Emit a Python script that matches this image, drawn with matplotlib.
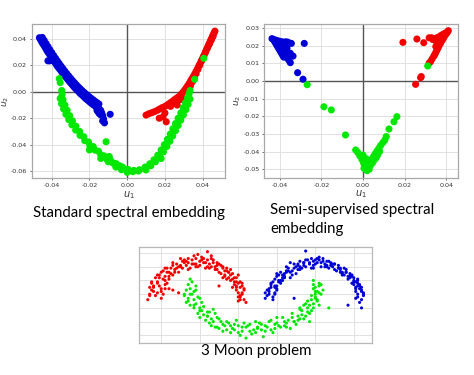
import matplotlib
matplotlib.use("Agg")
import matplotlib.pyplot as plt

# ---------------- data: top-left (standard spectral embedding) ----------------
tl_blue_x = [-0.0465, -0.0460, -0.0455, -0.0450, -0.0445, -0.0438, -0.0432, -0.0426, -0.0420, -0.0412,
             -0.0405, -0.0398, -0.0390, -0.0382, -0.0375, -0.0368, -0.0360, -0.0352, -0.0345, -0.0338,
             -0.0330, -0.0322, -0.0315, -0.0308, -0.0300, -0.0292, -0.0285, -0.0278, -0.0270, -0.0262,
             -0.0255, -0.0248, -0.0240, -0.0232, -0.0225, -0.0218, -0.0210, -0.0202, -0.0195, -0.0188,
             -0.0180, -0.0172, -0.0165, -0.0158, -0.0150, -0.0145, -0.0140, -0.0135, -0.0130, -0.0140,
             -0.0125, -0.0120, -0.0130, -0.0090, -0.0410, -0.0420, -0.0155, -0.0148, -0.0160,
             -0.0450, -0.0440, -0.0430, -0.0420, -0.0410, -0.0400, -0.0390, -0.0380, -0.0370, -0.0360,
             -0.0350, -0.0340, -0.0330, -0.0320, -0.0310, -0.0300, -0.0290, -0.0280, -0.0270, -0.0260,
             -0.0250, -0.0240, -0.0230, -0.0220, -0.0210, -0.0200, -0.0190, -0.0180, -0.0170, -0.0160,
             -0.0150]
tl_blue_y = [0.0410, 0.0398, 0.0385, 0.0372, 0.0360, 0.0345, 0.0330, 0.0315, 0.0300, 0.0284,
             0.0268, 0.0252, 0.0236, 0.0220, 0.0205, 0.0190, 0.0176, 0.0162, 0.0148, 0.0134,
             0.0120, 0.0107, 0.0094, 0.0081, 0.0068, 0.0055, 0.0043, 0.0031, 0.0020, 0.0009,
             -0.0002, -0.0013, -0.0023, -0.0033, -0.0043, -0.0053, -0.0062, -0.0071, -0.0080, -0.0088,
             -0.0097, -0.0105, -0.0113, -0.0120, -0.0128, -0.0135, -0.0142, -0.0160, -0.0180, -0.0175,
             -0.0205, -0.0235, -0.0220, -0.0170, 0.0235, 0.0235, -0.0150, -0.0165, -0.0140,
             0.0412, 0.0390, 0.0366, 0.0343, 0.0320, 0.0298, 0.0276, 0.0255, 0.0234, 0.0214,
             0.0194, 0.0175, 0.0156, 0.0138, 0.0120, 0.0103, 0.0086, 0.0070, 0.0054, 0.0039,
             0.0025, 0.0011, -0.0002, -0.0015, -0.0027, -0.0039, -0.0050, -0.0061, -0.0072, -0.0082,
             -0.0092]

tl_red_x = [0.0465, 0.0460, 0.0455, 0.0450, 0.0445, 0.0440, 0.0435, 0.0430, 0.0425, 0.0420,
            0.0415, 0.0410, 0.0405, 0.0398, 0.0392, 0.0385, 0.0378, 0.0372, 0.0365, 0.0358,
            0.0350, 0.0342, 0.0335, 0.0328, 0.0320, 0.0312, 0.0304, 0.0296, 0.0288, 0.0280,
            0.0270, 0.0260, 0.0250, 0.0240, 0.0230, 0.0220, 0.0210, 0.0198, 0.0185, 0.0172,
            0.0160, 0.0145, 0.0130, 0.0115, 0.0100, 0.0170, 0.0190, 0.0207, 0.0200, 0.0230,
            0.0250, 0.0265, 0.0280, 0.0290, 0.0455, 0.0445, 0.0435, 0.0425, 0.0415, 0.0405,
            0.0395, 0.0385, 0.0375, 0.0365, 0.0355, 0.0345, 0.0335]
tl_red_y = [0.0460, 0.0445, 0.0430, 0.0414, 0.0398, 0.0382, 0.0366, 0.0350, 0.0334, 0.0318,
            0.0302, 0.0286, 0.0270, 0.0250, 0.0232, 0.0212, 0.0192, 0.0174, 0.0155, 0.0136,
            0.0116, 0.0097, 0.0080, 0.0062, 0.0045, 0.0028, 0.0012, -0.0002, -0.0015, -0.0030,
            -0.0040, -0.0050, -0.0060, -0.0072, -0.0082, -0.0092, -0.0102, -0.0112, -0.0120, -0.0130,
            -0.0140, -0.0150, -0.0158, -0.0166, -0.0176, -0.0200, -0.0190, -0.0227, -0.0160, -0.0110,
            -0.0085, -0.0100, -0.0060, -0.0045, 0.0420, 0.0390, 0.0360, 0.0330, 0.0300, 0.0268,
            0.0236, 0.0202, 0.0170, 0.0137, 0.0105, 0.0075, 0.0045]

tl_green_x = [-0.0360, -0.0355, -0.0347, -0.0345, -0.0340, -0.0330, -0.0318, -0.0305, -0.0290, -0.0272,
              -0.0252, -0.0230, -0.0205, -0.0180, -0.0152, -0.0122, -0.0090, -0.0058, -0.0025, 0.0005,
              0.0035, 0.0065, 0.0095, 0.0120, 0.0142, 0.0162, 0.0180, 0.0197, 0.0213, 0.0228,
              0.0242, 0.0256, 0.0270, 0.0284, 0.0297, 0.0309, 0.0320, 0.0328, 0.0333,
              -0.0355, -0.0348, -0.0337, -0.0325, -0.0310, -0.0293, -0.0273, -0.0250, -0.0225, -0.0198,
              -0.0170, -0.0140, -0.0108, -0.0075, -0.0040, -0.0005, 0.0030, 0.0060,
              0.0095, 0.0125, 0.0150, 0.0172, 0.0192, 0.0210, 0.0226, 0.0241, 0.0256, 0.0270,
              0.0284, 0.0298, 0.0311, 0.0323, 0.0333,
              -0.0112, -0.0095, -0.0070, -0.0040, 0.0357, 0.0406,
              -0.0100, -0.0060, -0.0030, 0.0000, 0.0100, -0.0140, -0.0200, 0.0180]
tl_green_y = [0.0100, 0.0070, 0.0010, -0.0020, -0.0060, -0.0100, -0.0140, -0.0180, -0.0220, -0.0260,
              -0.0300, -0.0340, -0.0380, -0.0415, -0.0450, -0.0485, -0.0515, -0.0545, -0.0570, -0.0588,
              -0.0595, -0.0590, -0.0570, -0.0545, -0.0515, -0.0480, -0.0440, -0.0400, -0.0360, -0.0320,
              -0.0280, -0.0240, -0.0200, -0.0160, -0.0120, -0.0082, -0.0045, -0.0015, 0.0010,
              -0.0050, -0.0090, -0.0130, -0.0170, -0.0210, -0.0250, -0.0290, -0.0330, -0.0370, -0.0407,
              -0.0442, -0.0477, -0.0510, -0.0540, -0.0566, -0.0590, -0.0605, -0.0600,
              -0.0585, -0.0560, -0.0530, -0.0495, -0.0455, -0.0415, -0.0375, -0.0335, -0.0295, -0.0255,
              -0.0215, -0.0175, -0.0135, -0.0095, -0.0055,
              -0.0378, -0.0490, -0.0540, -0.0560, 0.0095, 0.0254,
              -0.0530, -0.0570, -0.0590, -0.0610, -0.0592, -0.0505, -0.0440, -0.0505]

# ---------------- data: top-right (semi-supervised spectral embedding) ----------------
tr_blue_x = [-0.0437, -0.0430, -0.0425, -0.0420, -0.0415, -0.0410, -0.0405, -0.0400, -0.0395, -0.0390,
             -0.0385, -0.0380, -0.0420, -0.0410, -0.0400, -0.0390, -0.0380, -0.0370, -0.0360, -0.0400,
             -0.0390, -0.0380, -0.0370, -0.0395, -0.0385, -0.0375, -0.0365, -0.0370, -0.0362, -0.0344,
             -0.0282, -0.0349, -0.0336, -0.0357, -0.0349, -0.0314, -0.0288]
tr_blue_y = [0.0240, 0.0235, 0.0225, 0.0215, 0.0205, 0.0195, 0.0185, 0.0175, 0.0165, 0.0155,
             0.0145, 0.0135, 0.0232, 0.0228, 0.0225, 0.0222, 0.0220, 0.0222, 0.0220, 0.0205,
             0.0200, 0.0195, 0.0200, 0.0190, 0.0180, 0.0170, 0.0185, 0.0160, 0.0150, 0.0213,
             0.0213, 0.0157, 0.0141, 0.0119, 0.0104, 0.0047, 0.0010]

tr_red_x = [0.0410, 0.0405, 0.0400, 0.0395, 0.0390, 0.0385, 0.0380, 0.0375, 0.0370, 0.0365,
            0.0360, 0.0355, 0.0350, 0.0345, 0.0340, 0.0332, 0.0325, 0.0318, 0.0395, 0.0385,
            0.0375, 0.0365, 0.0355, 0.0345, 0.0335, 0.0330, 0.0380, 0.0370, 0.0360, 0.0365,
            0.0372, 0.0355, 0.0350, 0.0360, 0.0192, 0.0259, 0.0292, 0.0318, 0.0277, 0.0253,
            0.0280]
tr_red_y = [0.0285, 0.0275, 0.0268, 0.0260, 0.0250, 0.0240, 0.0230, 0.0220, 0.0210, 0.0198,
            0.0186, 0.0174, 0.0162, 0.0150, 0.0140, 0.0125, 0.0110, 0.0102, 0.0272, 0.0265,
            0.0258, 0.0250, 0.0245, 0.0240, 0.0235, 0.0245, 0.0250, 0.0238, 0.0225, 0.0232,
            0.0215, 0.0210, 0.0195, 0.0205, 0.0219, 0.0238, 0.0217, 0.0245, 0.0019, -0.0019,
            0.0025]

tr_green_x = [-0.0035, -0.0025, -0.0015, -0.0005, 0.0003, 0.0008, 0.0012, 0.0020, 0.0030, 0.0035,
              0.0040, 0.0045, 0.0052, 0.0060, 0.0068, 0.0077, 0.0085, 0.0095, 0.0105, 0.0112,
              0.0125, 0.0149, 0.0163, 0.0010, 0.0020, 0.0025, 0.0035, 0.0045, 0.0015, 0.0000,
              0.0050, 0.0060, 0.0070, 0.0080, 0.0065, 0.0005, 0.0025,
              -0.0268, -0.0188, -0.0152, -0.0084, 0.0311]
tr_green_y = [-0.0391, -0.0405, -0.0425, -0.0445, -0.0465, -0.0485, -0.0500, -0.0508, -0.0500, -0.0480,
              -0.0460, -0.0440, -0.0425, -0.0410, -0.0395, -0.0380, -0.0365, -0.0350, -0.0335, -0.0315,
              -0.0272, -0.0231, -0.0202, -0.0470, -0.0480, -0.0460, -0.0450, -0.0465, -0.0440, -0.0420,
              -0.0455, -0.0440, -0.0420, -0.0400, -0.0430, -0.0495, -0.0490,
              -0.0021, -0.0146, -0.0164, -0.0306, 0.0085]

# ---------------- data: bottom (3 moons, grid units) ----------------
moon_red_x = [-0.35, -0.1, -0.25, 0.0, -0.15, -0.3, 0.05, -0.1, -0.2, 0.1,
              -0.25, 0.0, -0.05, 0.1, -0.2, 0.1, -0.15, 0.15, 0.0, -0.1,
              0.2, 0.05, 0.25, -0.05, 0.15, 0.35, 0.1, 0.3, 0.4, 0.2,
              0.5, 0.3, 0.45, 0.55, 0.25, 0.6, 0.7, 0.5, 0.65, 0.45,
              0.8, 0.9, 0.7, 0.85, 0.75, 1.0, 0.95, 1.05, 0.9, 1.1,
              1.2, 1.15, 1.25, 1.1, 1.3, 1.35, 1.4, 1.3, 1.45, 1.25,
              1.55, 1.5, 1.6, 1.45, 1.65, 1.7, 1.65, 1.75, 1.6, 1.8,
              1.85, 1.8, 1.9, 1.75, 1.95, 1.95, 1.9, 2.05, 1.85, 2.0,
              2.05, 2.0, 2.1, 1.95, 2.15, 2.1, 2.0, 2.15, 2.05, 1.95,
              2.15, 2.05, 2.2, 2.0, 2.1, 0.45, 0.3, 1.5, 1.2,
              -0.3, -0.2, -0.05, 0.1, 0.2, -0.25, 0.0, 0.15, 0.3, 0.35,
              0.4, 0.6, 0.55, 0.7, 0.8, 0.65, 0.9, 1.0, 1.05, 1.15,
              1.2, 1.35, 1.4, 1.5, 1.55, 1.6, 1.7, 1.75, 1.8, 1.9,
              1.95, 2.0, 2.1, 1.85, 1.7, 0.2, -0.1, 0.5, 0.95, 1.3,
              1.65, 2.05, 0.05, -0.3, 0.85, 1.45]
moon_red_y = [2.6, 3.1, 3.3, 2.7, 2.9, 3.5, 3.0, 3.8, 3.2, 3.4,
              3.9, 3.4, 4.2, 3.7, 3.6, 4.3, 4.2, 3.8, 4.6, 3.9,
              4.1, 4.7, 4.5, 4.4, 4.9, 4.8, 4.9, 4.4, 5.2, 4.6,
              5.0, 5.3, 4.6, 5.4, 4.9, 5.3, 4.8, 5.6, 5.1, 5.0,
              5.5, 5.0, 5.3, 5.8, 4.9, 5.4, 5.0, 5.7, 5.2, 5.3,
              5.5, 4.9, 5.2, 5.6, 5.0, 5.3, 4.8, 5.6, 5.1, 4.9,
              5.1, 4.6, 4.9, 5.3, 4.7, 4.9, 4.4, 4.6, 4.2, 4.8,
              4.5, 4.0, 4.2, 4.6, 3.9, 4.2, 3.7, 3.9, 3.5, 4.4,
              3.5, 3.1, 3.8, 3.3, 3.4, 3.0, 2.8, 3.3, 2.6, 3.5,
              2.6, 2.9, 2.4, 2.5, 3.1, 3.1, 3.3, 3.6, 6.1,
              3.0, 3.5, 3.6, 4.0, 4.3, 3.8, 3.2, 4.6, 5.1, 4.6,
              4.9, 5.5, 4.9, 5.6, 5.2, 5.4, 5.6, 5.1, 5.5, 5.3,
              5.0, 5.5, 5.0, 5.2, 4.5, 5.0, 4.7, 4.2, 4.4, 3.9,
              3.6, 3.8, 3.6, 4.1, 4.1, 3.4, 4.4, 5.1, 5.9, 5.8,
              4.3, 2.8, 4.1, 2.9, 5.2, 4.8]

moon_green_x = [0.8, 0.65, 0.9, 0.75, 0.6, 0.7, 0.85, 0.6, 0.95, 0.75,
                0.9, 0.7, 1.0, 0.85, 0.75, 1.0, 0.85, 1.1, 0.95, 1.05,
                1.2, 1.05, 1.25, 1.0, 1.15, 1.35, 1.2, 1.45, 1.3, 1.4,
                1.6, 1.5, 1.7, 1.45, 1.6, 1.85, 1.75, 1.9, 1.8, 1.95,
                2.1, 2.0, 2.2, 2.15, 2.05, 2.4, 2.3, 2.5, 2.35, 2.45,
                2.7, 2.6, 2.75, 2.65, 2.8, 2.95, 3.0, 2.9, 3.05, 2.85,
                3.2, 3.3, 3.15, 3.35, 3.25, 3.45, 3.55, 3.4, 3.5, 3.6,
                3.65, 3.75, 3.6, 3.8, 3.7, 3.85, 3.9, 3.8, 3.95, 3.75,
                4.0, 3.95, 4.05, 3.9, 4.1, 4.05, 4.0, 4.15, 3.95, 4.1,
                4.1, 4.0, 4.2, 3.95, 4.15, 4.35, 3.85, 2.2,
                0.7, 0.8, 0.65, 0.9, 0.85, 1.0, 1.1, 1.2, 1.3, 1.25,
                1.4, 1.5, 1.55, 1.65, 1.7, 1.8, 1.9, 2.0, 2.1, 2.25,
                2.3, 2.45, 2.55, 2.6, 2.7, 2.85, 2.95, 3.1, 3.2, 3.25,
                3.4, 3.45, 3.55, 3.65, 3.7, 3.8, 3.85, 3.9, 4.0, 4.05,
                4.1, 3.95, 0.75, 1.35, 2.5, 3.0, 3.6, 4.0]
moon_green_y = [3.9, 3.3, 3.6, 4.1, 3.0, 2.7, 3.2, 2.9, 2.8, 3.4,
                2.3, 2.5, 2.7, 2.0, 2.2, 1.8, 2.2, 2.1, 1.6, 2.4,
                1.4, 1.8, 1.7, 1.3, 1.1, 1.0, 1.4, 1.3, 0.7, 1.6,
                0.8, 1.2, 1.0, 0.6, 0.3, 0.5, 0.9, 0.8, 0.2, 1.1,
                0.3, 0.7, 0.6, 0.9, 0.0, 0.4, 0.8, 0.6, 0.1, 1.0,
                0.3, 0.8, 0.6, -0.1, 1.0, 0.5, 0.9, 0.2, 0.7, 1.1,
                0.7, 1.1, 1.3, 0.5, 0.9, 1.0, 1.4, 1.6, 0.8, 1.2,
                1.8, 1.4, 2.0, 1.7, 1.2, 2.2, 1.8, 2.5, 2.0, 2.3,
                2.7, 2.3, 2.5, 2.9, 2.2, 3.2, 2.8, 3.0, 3.4, 3.6,
                3.8, 3.5, 3.3, 4.0, 3.7, 2.0, 1.0, -0.2,
                3.7, 3.0, 2.4, 3.3, 2.6, 2.0, 1.5, 1.7, 1.2, 0.9,
                0.6, 0.5, 1.0, 0.7, 0.4, 0.7, 0.4, 0.2, 0.6, 0.7,
                0.3, 0.2, 0.9, 0.4, 0.7, 0.4, 0.8, 0.6, 1.0, 0.6,
                1.3, 1.0, 1.1, 1.5, 2.2, 2.0, 1.6, 2.6, 3.0, 2.6,
                3.1, 3.7, 3.0, 1.9, 0.5, 1.3, 1.9, 3.2]

moon_blue_x = [2.75, 2.9, 2.8, 2.95, 2.7, 2.85, 2.95, 2.75, 3.0, 2.8,
               2.9, 3.0, 2.85, 3.05, 2.95, 3.0, 3.1, 2.95, 3.15, 3.05,
               3.1, 3.2, 3.05, 3.25, 3.15, 3.3, 3.2, 3.35, 3.25, 3.4,
               3.45, 3.4, 3.5, 3.35, 3.55, 3.6, 3.65, 3.55, 3.7, 3.6,
               3.8, 3.75, 3.85, 3.9, 3.7, 4.0, 3.95, 4.05, 4.1, 3.95,
               4.2, 4.15, 4.25, 4.1, 4.3, 4.4, 4.35, 4.45, 4.3, 4.5,
               4.6, 4.55, 4.65, 4.5, 4.7, 4.75, 4.7, 4.8, 4.65, 4.85,
               4.9, 4.85, 4.95, 4.8, 5.0, 5.0, 4.95, 5.05, 4.9, 5.1,
               5.1, 5.05, 5.15, 5.0, 5.2, 5.15, 5.1, 5.2, 5.05, 5.25,
               5.2, 5.1, 5.25, 5.15, 5.05, 3.75, 3.45, 4.85, 5.2,
               2.7, 2.8, 2.9, 2.85, 3.0, 3.1, 3.0, 3.2, 3.3, 3.35,
               3.45, 3.5, 3.6, 3.7, 3.75, 3.85, 3.9, 4.0, 4.05, 4.15,
               4.2, 4.3, 4.35, 4.45, 4.5, 4.6, 4.65, 4.75, 4.8, 4.9,
               4.95, 5.0, 5.1, 5.15, 5.2, 5.25, 5.05, 2.95, 3.25, 3.55,
               3.95, 4.4, 4.7, 5.1, 3.15, 4.25]
moon_blue_y = [2.9, 2.6, 3.2, 3.0, 2.7, 3.5, 3.1, 3.3, 3.6, 3.0,
               3.9, 3.4, 3.7, 4.0, 3.6, 4.3, 3.8, 4.1, 4.2, 3.9,
               4.6, 4.2, 4.4, 4.7, 4.0, 4.9, 4.5, 4.6, 5.0, 4.4,
               5.2, 4.7, 5.0, 5.3, 4.8, 5.4, 4.9, 5.1, 5.3, 4.8,
               5.5, 5.0, 5.2, 5.6, 5.3, 5.5, 5.1, 5.3, 5.7, 4.9,
               5.4, 5.0, 5.2, 5.5, 5.1, 5.3, 4.9, 5.0, 5.4, 5.2,
               5.1, 4.7, 4.9, 5.2, 4.6, 4.9, 4.5, 4.6, 4.8, 4.3,
               4.5, 4.1, 4.3, 4.6, 4.0, 4.2, 3.8, 3.9, 4.3, 4.1,
               3.8, 3.4, 3.6, 3.9, 3.5, 3.4, 3.0, 3.2, 3.5, 2.9,
               2.6, 2.8, 3.0, 2.4, 2.7, 6.15, 2.7, 2.2, 2.0,
               3.1, 3.4, 2.8, 3.8, 3.3, 4.0, 4.5, 4.3, 4.7, 4.2,
               4.9, 4.5, 5.0, 5.1, 5.5, 5.3, 4.9, 5.2, 5.6, 5.3,
               5.6, 5.0, 5.4, 5.2, 4.8, 4.9, 4.6, 4.4, 4.8, 4.2,
               4.4, 3.7, 4.0, 3.7, 3.3, 3.1, 3.2, 3.5, 4.6, 5.2,
               5.4, 5.1, 4.4, 3.6, 4.4, 5.0]

# tick labels
tl_xticks = [-0.04, -0.02, 0.00, 0.02, 0.04]
tl_yticks = [-0.06, -0.04, -0.02, 0.00, 0.02, 0.04]
tr_xticks = [-0.04, -0.02, 0.00, 0.02, 0.04]
tr_yticks = [-0.05, -0.04, -0.03, -0.02, -0.01, 0.00, 0.01, 0.02, 0.03]

RED = "#f20000"
BLUE = "#0000d6"
GREEN = "#00e800"

W, H = 474, 375
fig = plt.figure(figsize=(W / 100, H / 100), dpi=100)
fig.patch.set_facecolor("white")


def px_axes(l, t, r, b):
    return fig.add_axes([l / W, 1 - b / H, (r - l) / W, (b - t) / H])


def style_top(ax, xt, yt, ylab_x):
    ax.set_facecolor("white")
    for s in ax.spines.values():
        s.set_color("#a8a8a8")
        s.set_linewidth(0.9)
    ax.grid(True, color="#dcdcdc", linewidth=0.6)
    ax.set_axisbelow(True)
    ax.set_xticks(xt)
    ax.set_yticks(yt)
    ax.set_xticklabels(["%.2f" % v if v != 0 else "0.00" for v in xt])
    ax.set_yticklabels(["%.2f" % v if v != 0 else "0.00" for v in yt])
    ax.tick_params(labelsize=4.6, colors="#333333", length=1.5, width=0.5, pad=2)
    ax.axhline(0, color="#555555", linewidth=1.0, zorder=1.5)
    ax.axvline(0, color="#555555", linewidth=1.0, zorder=1.5)
    ax.set_xlabel(r"$u_1$", fontsize=7, labelpad=0.5, color="#333333")
    ax.set_ylabel(r"$u_2$", fontsize=6.5, color="#333333")
    ax.yaxis.set_label_coords(ylab_x, 0.5)


MS = 26

# top-left
ax1 = px_axes(31.7, 24, 225.3, 178.3)
style_top(ax1, tl_xticks, tl_yticks, -0.106)
ax1.scatter(tl_blue_x, tl_blue_y, s=MS, c=BLUE, edgecolors="none", zorder=3)
ax1.scatter(tl_red_x, tl_red_y, s=MS, c=RED, edgecolors="none", zorder=3)
ax1.scatter(tl_green_x, tl_green_y, s=MS, c=GREEN, edgecolors="none", zorder=4)
ax1.set_xlim(-0.0506, 0.052)
ax1.set_ylim(-0.0655, 0.0514)

# top-right
ax2 = px_axes(264.3, 24, 458.3, 177.7)
style_top(ax2, tr_xticks, tr_yticks, -0.11)
ax2.scatter(tr_blue_x, tr_blue_y, s=MS, c=BLUE, edgecolors="none", zorder=3)
ax2.scatter(tr_red_x, tr_red_y, s=MS, c=RED, edgecolors="none", zorder=3)
ax2.scatter(tr_green_x, tr_green_y, s=MS, c=GREEN, edgecolors="none", zorder=4)
ax2.set_xlim(-0.0474, 0.0458)
ax2.set_ylim(-0.0548, 0.0323)

# bottom moons
ax3 = px_axes(139.3, 247.3, 372.3, 343.3)
ax3.set_facecolor("white")
for s in ax3.spines.values():
    s.set_color("#b8b8b8")
    s.set_linewidth(0.9)
ax3.set_xticks([0, 1, 2, 3, 4, 5])
ax3.set_yticks([0, 1, 2, 3, 4, 5, 6])
ax3.tick_params(labelbottom=False, labelleft=False, length=0)
ax3.grid(True, color="#dcdcdc", linewidth=0.6)
ax3.set_axisbelow(True)
ax3.scatter(moon_red_x, moon_red_y, s=5, c=RED, edgecolors="none")
ax3.scatter(moon_green_x, moon_green_y, s=5, c=GREEN, edgecolors="none")
ax3.scatter(moon_blue_x, moon_blue_y, s=5, c=BLUE, edgecolors="none")
ax3.set_xlim(-0.57, 5.48)
ax3.set_ylim(-0.58, 6.42)

# captions
cap_font = dict(family=["Lato", "DejaVu Sans"], fontsize=10.8, color="black")
fig.text(33 / W, 1 - 216.5 / H, "Standard spectral embedding", ha="left", va="baseline", **cap_font)
fig.text(270 / W, 1 - 214 / H, "Semi-supervised spectral", ha="left", va="baseline", **cap_font)
fig.text(270 / W, 1 - 233 / H, "embedding", ha="left", va="baseline", **cap_font)
fig.text(256 / W, 1 - 355 / H, "3 Moon problem", ha="center", va="baseline", **cap_font)

fig.savefig("out.png", dpi=100, facecolor="white")
